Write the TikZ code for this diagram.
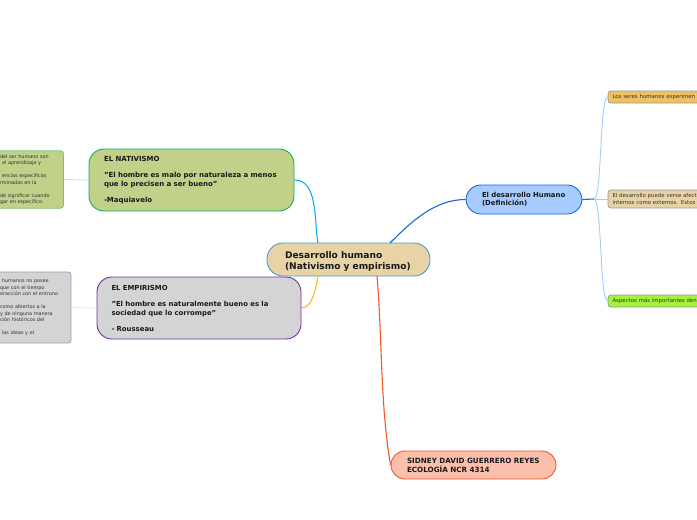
\documentclass[tikz,border=0pt]{standalone}
\usepackage{fontspec}
\setmainfont{DejaVu Sans}
\definecolor{sand}{HTML}{E8D3A6}
\definecolor{moss}{HTML}{C1D18A}
\definecolor{greybox}{HTML}{D4D4D4}
\definecolor{skyblue}{HTML}{A6CBFF}
\definecolor{salmon}{HTML}{FBBFAB}
\definecolor{amber}{HTML}{EFC261}
\definecolor{lime}{HTML}{A2F23E}
\definecolor{rootline}{HTML}{4A9BD0}
\definecolor{natline}{HTML}{10AC60}
\definecolor{empline}{HTML}{6F2F9F}
\definecolor{desline}{HTML}{1B66D8}
\definecolor{sidline}{HTML}{F5552B}
\definecolor{natlink}{HTML}{12ACF0}
\definecolor{emplink}{HTML}{FFB81C}
\tikzstyle{topic}=[draw,rounded corners=15pt,line width=.9pt,inner sep=0pt,align=left,font=\bfseries\fontsize{7}{9}\selectfont,text=black!90]
\tikzstyle{note}=[draw,rounded corners=3pt,line width=.8pt,inner sep=0pt,align=left,font=\fontsize{4.9}{6.5}\selectfont,text=black!80]
\tikzstyle{sidenote}=[note,draw=black!40,minimum width=152pt,text width=143pt,font=\fontsize{5.4}{6.8}\selectfont]
\tikzstyle{link}=[line width=1.1pt]
\tikzstyle{thin link}=[line width=.9pt]

\begin{document}
\begin{tikzpicture}[x=1pt,y=-1pt]
%\draw[help lines,step=50] (0,0) grid (697,520);
\useasboundingbox (0,0) rectangle (697,520);
\node[topic,fill=sand,draw=rootline,minimum width=163pt,minimum height=33pt,text width=127pt,font=\bfseries\fontsize{9.1}{11}\selectfont,rounded corners=16pt] (root) at (348.5,259.5) {\rule{0pt}{10pt}Desarrollo humano\\(Nativismo y empirismo)};
\node[topic,fill=moss,draw=natline,minimum width=205pt,minimum height=62pt,text width=175pt] (nat) at (191.5,180) {EL NATIVISMO\\[7pt]"El hombre es malo por naturaleza a menos\\que lo precisen a ser bueno"\\[7pt]-Maquiavelo};
\node[topic,fill=greybox,draw=empline,minimum width=204pt,minimum height=62pt,text width=175pt,font=\bfseries\fontsize{6.9}{9}\selectfont] (emp) at (199,308) {EL EMPIRISMO\\[7pt]"El hombre es naturalmente bueno es la\\sociedad que lo corrompe"\\[7pt]- Rousseau};
\node[topic,fill=skyblue,draw=desline,minimum width=116pt,minimum height=29pt,text width=84pt,font=\bfseries\fontsize{6.9}{8.5}\selectfont] (des) at (524,199.5) {El desarrollo Humano\\(Definición)};
\node[topic,fill=salmon,draw=sidline,minimum width=165pt,minimum height=28pt,text width=133pt,font=\bfseries\fontsize{7.2}{9}\selectfont,rounded corners=14pt] (sid) at (473.5,465) {SIDNEY DAVID GUERRERO REYES\\ECOLOGÍA NCR 4314};
\node[note,fill=moss,draw=natline!40!moss,minimum width=67.5pt,minimum height=57.5pt,text width=59.5pt] (natnote) at (29.75,179.5) {del ser humano son\\\hspace{2pt}el aprendizaje y\\[6.5pt]\hspace{2pt}encias específicas\\rminadas en la\\[6.5pt]de significar cuando\\gar en específico.};
\node[note,fill=greybox,draw=empline!40!greybox,minimum width=75pt,minimum height=71pt,text width=67pt] (empnote) at (33.5,307.5) {\hspace{2pt}humanos no posee\\que con el tiempo\\eracción con el entrono\\[6.5pt]como abiertos a la\\y de ninguna manera\\ción históricos del\\[6.5pt]\hspace{2pt}las ideas y el};
\node[sidenote,fill=amber,minimum height=12pt] (ser) at (684,97) {Los seres humanos experimen};
\node[sidenote,fill=sand,minimum height=18pt] (fac) at (684,199) {El desarrollo puede verse afect\\internos como externos. Estos};
\node[sidenote,fill=lime,minimum height=12pt] (asp) at (684,301) {Aspectos más importantes den};
\coordinate (fork) at (594,199);
\coordinate (r1) at (318,243);
\coordinate (r2) at (390,243);
\coordinate (r3) at (318,276);
\coordinate (r4) at (377,276);
\path[link]
(r1) edge[draw=natlink,out=100,in=0,looseness=.9] (nat.east)
(r3) edge[draw=emplink,out=260,in=0,looseness=.8] (emp.east)
(r2) edge[draw=desline,out=45,in=180,looseness=.9] (des.west)
(r4) edge[draw=sidline,out=-85,in=100,looseness=.8] (sid.west)
(des.east) edge[draw=desline] (fork);
\path[thin link]
(fork) edge[draw=skyblue,out=0,in=180,looseness=.2] (ser.west)
       edge[draw=skyblue] (fac.west)
       edge[draw=skyblue,out=0,in=180,looseness=.2] (asp.west)
(nat.west) edge[draw=natlink!30] (natnote.east)
(emp.west) edge[draw=emplink!30] (empnote.east);
\end{tikzpicture}
\end{document}
